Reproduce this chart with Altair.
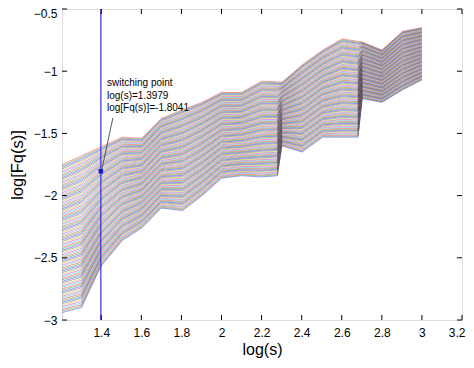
import altair as alt
import pandas as pd

# ---- data ----
log_s = [1.2041, 1.3010, 1.3979, 1.5051, 1.6021, 1.6990, 1.8062, 1.9031, 2.0000,
         2.1004, 2.2014, 2.2788, 2.3010, 2.4014, 2.5051, 2.6021, 2.6812, 2.7016,
         2.8007, 2.9031, 3.0000]
top_curve = [-1.75, -1.68, -1.61, -1.53, -1.54, -1.38, -1.31, -1.25, -1.17,
             -1.17, -1.08, -1.085, -1.09, -0.95, -0.83, -0.74, -0.76, -0.765,
             -0.83, -0.68, -0.65]
bottom_curve = [-2.94, -2.90, -2.57, -2.36, -2.26, -2.10, -2.12, -2.00, -1.86,
                -1.84, -1.85, -1.84, -1.60, -1.65, -1.53, -1.53, -1.53, -1.22,
                -1.25, -1.15, -1.07]
n_curves = 101
line_colors = ["#0000ff", "#008000", "#ff0000", "#00bfbf", "#bf00bf", "#bfbf00", "#404040"]

x_ticks = [1.4, 1.6, 1.8, 2.0, 2.2, 2.4, 2.6, 2.8, 3.0, 3.2]
y_ticks = [-3, -2.5, -2, -1.5, -1, -0.5]

switch_x = 1.3979
switch_y = -1.8041
note_lines = ["switching point", "log(s)=1.3979", "log[Fq(s)]=-1.8041"]

# ---- build table ----
rows = []
for k in range(n_curves):
    f = k / (n_curves - 1)
    for xv, t, b in zip(log_s, top_curve, bottom_curve):
        rows.append({"x": xv, "y": b + f * (t - b), "curve": k,
                     "color": line_colors[k % len(line_colors)]})
df = pd.DataFrame(rows)

W, H = 400, 311
FONT = "Liberation Sans"
xscale = alt.Scale(domain=[1.2041, 3.2], nice=False, zero=False)
yscale = alt.Scale(domain=[-3, -0.5], nice=False, zero=False)

x_axis = alt.Axis(values=x_ticks, ticks=False, domain=False, grid=False,
                  labelExpr="'' + datum.value", labelFont=FONT, labelFontSize=12,
                  labelColor="#000", labelPadding=7, labelFlush=1, labelFlushOffset=3,
                  title="log(s)", titleFont=FONT, titleFontSize=16,
                  titleFontWeight="normal", titleColor="#000",
                  titleBaseline="alphabetic", titleY=34)
y_axis = alt.Axis(values=y_ticks, ticks=False, domain=False, grid=False,
                  labelExpr="replace('' + datum.value, '-', '\u2212')",
                  labelFont=FONT, labelFontSize=12, labelColor="#000",
                  labelPadding=5, labelOffset={"expr": "datum.value == -0.5 ? 4 : 0"},
                  title="log[Fq(s)]", titleFont=FONT,
                  titleFontSize=16.5, titleFontWeight="normal",
                  titleColor="#000", titlePadding=8)


def X(field="x"):
    return alt.X(f"{field}:Q", scale=xscale, axis=x_axis, title="log(s)")


def Y(field="y"):
    return alt.Y(f"{field}:Q", scale=yscale, axis=y_axis, title="log[Fq(s)]")


lines = alt.Chart(df).mark_line(strokeWidth=0.8, opacity=0.5).encode(
    x=X(), y=Y(),
    color=alt.Color("color:N", scale=None),
    detail="curve:N",
)

xt = pd.DataFrame({"x": x_ticks})
yt = pd.DataFrame({"y": y_ticks})
tick_b = alt.Chart(xt).mark_rule(color="#000", strokeWidth=1).encode(
    x=X(), y=alt.value(H), y2=alt.value(H - 5))
tick_t = alt.Chart(xt).mark_rule(color="#000", strokeWidth=1).encode(
    x=X(), y=alt.value(0), y2=alt.value(5))
tick_l = alt.Chart(yt).mark_rule(color="#000", strokeWidth=1).encode(
    y=Y(), x=alt.value(0), x2=alt.value(5))
tick_r = alt.Chart(yt).mark_rule(color="#000", strokeWidth=1).encode(
    y=Y(), x=alt.value(W), x2=alt.value(W - 5))

vline = alt.Chart(pd.DataFrame({"x": [switch_x]})).mark_rule(
    color="#2f2fd0", strokeWidth=1.2).encode(x=X())

pt = alt.Chart(pd.DataFrame({"x": [switch_x], "y": [switch_y]})).mark_point(
    shape="square", filled=True, size=20, color="#1a1acc", opacity=1).encode(
    x=X(), y=Y())

arrow = alt.Chart(pd.DataFrame({"x": [1.458], "y": [-1.376], "x2": [1.403], "y2": [-1.79]})).mark_rule(
    color="#333", strokeWidth=0.8).encode(x=X(), y=Y(), x2="x2:Q", y2="y2:Q")

note = alt.Chart(pd.DataFrame({"x": [1.4286], "y": [-1.095]})).mark_text(
    text=note_lines, align="left", baseline="middle", font=FONT, fontSize=10,
    lineHeight=12.5, color="#000").encode(x=X(), y=Y())

chart = alt.layer(lines, vline, arrow, pt, note, tick_b, tick_t, tick_l, tick_r).properties(
    width=W, height=H,
    autosize=alt.AutoSizeParams(type="none"),
    padding={"left": 54, "top": 1, "right": 4, "bottom": 38},
).configure_view(stroke="#000", strokeWidth=1).configure(background="white")

chart.save("out.html", embed_options={"renderer": "svg", "actions": False})
